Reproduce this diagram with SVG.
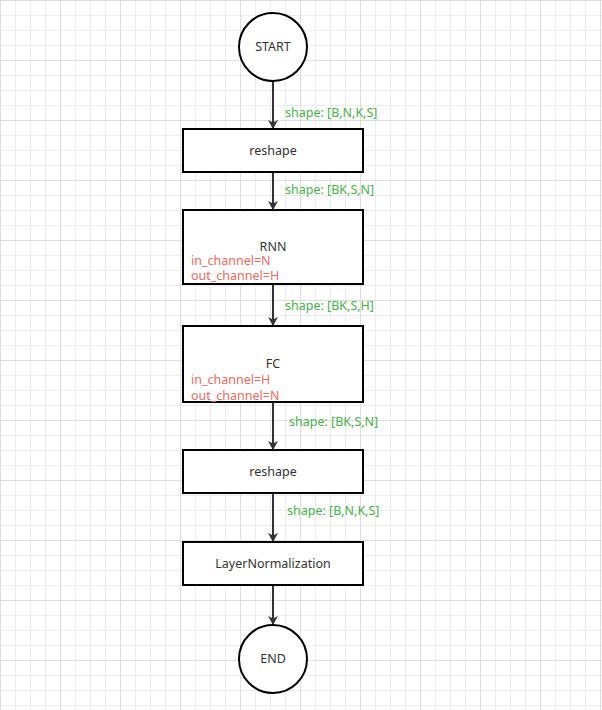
<svg xmlns="http://www.w3.org/2000/svg" width="602" height="710" viewBox="0 0 602 710">
<defs>
<pattern id="g" width="15" height="15" patternUnits="userSpaceOnUse"><path d="M0.5 0V15M0 0.5H15" stroke="#ececec" stroke-width="1" fill="none"/></pattern>
<pattern id="G" width="60" height="60" patternUnits="userSpaceOnUse"><rect width="60" height="60" fill="url(#g)"/><path d="M0.5 0V60M0 0.5H60" stroke="#dedede" stroke-width="1" fill="none"/></pattern>
<marker id="a" markerWidth="10" markerHeight="10" refX="8" refY="5" orient="auto" markerUnits="userSpaceOnUse"><path d="M0 0L9 5L0 10L2.5 5Z" fill="#333"/></marker>
<style>
.n{fill:#fff;stroke:#000;stroke-width:2}
.t{font-family:"Noto Sans","Open Sans",sans-serif;font-size:12.5px;fill:#333;text-anchor:middle}
.s{font-family:"Noto Sans","Open Sans",sans-serif;font-size:12.5px;fill:#4caf50}
.r{font-family:"Noto Sans","Open Sans",sans-serif;font-size:12.5px;fill:#ea6b66}
.c{stroke:#333;stroke-width:2;fill:none;marker-end:url(#a)}
</style>
</defs>
<rect width="602" height="710" fill="#fff"/>
<rect width="602" height="710" fill="url(#G)"/>
<g id="connectors">
<path class="c" d="M273 81V128"/>
<path class="c" d="M273 172V209"/>
<path class="c" d="M273 284V325"/>
<path class="c" d="M273 402V449"/>
<path class="c" d="M273 493V541"/>
<path class="c" d="M273 585V624"/>
<text class="s" x="285" y="117">shape: [B,N,K,S]</text>
<text class="s" x="285" y="194">shape: [BK,S,N]</text>
<text class="s" x="285" y="310">shape: [BK,S,H]</text>
<text class="s" x="289" y="426">shape: [BK,S,N]</text>
<text class="s" x="287" y="515">shape: [B,N,K,S]</text>
</g>
<g id="start"><circle class="n" cx="273" cy="47" r="34"/><text class="t" x="273" y="51">START</text></g>
<g id="reshape1"><rect class="n" x="183" y="129" width="180" height="43"/><text class="t" x="273" y="155">reshape</text></g>
<g id="rnn"><rect class="n" x="183" y="210" width="180" height="74"/><text class="t" x="273" y="251">RNN</text><text class="r" x="191" y="265">in_channel=N</text><text class="r" x="191" y="280">out_channel=H</text></g>
<g id="fc"><rect class="n" x="183" y="326" width="180" height="76"/><text class="t" x="273" y="368">FC</text><text class="r" x="191" y="384">in_channel=H</text><text class="r" x="191" y="400">out_channel=N</text></g>
<g id="reshape2"><rect class="n" x="183" y="450" width="180" height="43"/><text class="t" x="273" y="476">reshape</text></g>
<g id="layernorm"><rect class="n" x="183" y="542" width="180" height="43"/><text class="t" x="273" y="568">LayerNormalization</text></g>
<g id="end"><circle class="n" cx="273" cy="659" r="34"/><text class="t" x="273" y="663">END</text></g>
</svg>
